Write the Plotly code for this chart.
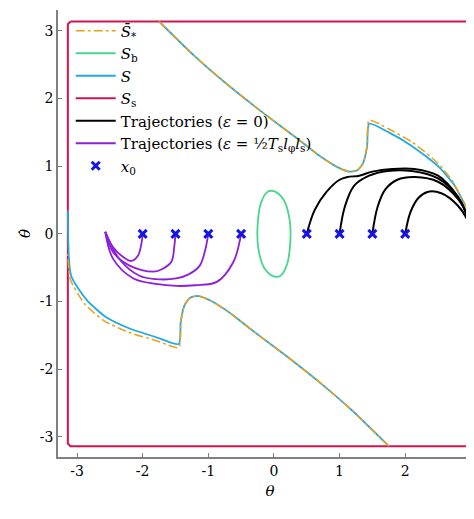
import plotly.graph_objects as go

# boundary S (upper branch, lower branch is point-symmetric)
s_up_x = [-1.75, -1.2, -0.7, -0.18, 0.3, 0.7, 0.96, 1.15, 1.27, 1.36, 1.42, 1.45, 1.75, 2.1, 2.5, 2.75, 2.9, 3.05, 3.14]
s_up_y = [3.14, 2.62, 2.2, 1.8, 1.45, 1.15, 0.99, 0.92, 0.94, 1.05, 1.3, 1.63, 1.5, 1.3, 1.0, 0.72, 0.45, 0.2, 0.0]
s_lo_x = [1.75, 1.2, 0.7, 0.18, -0.3, -0.7, -0.96, -1.15, -1.27, -1.36, -1.42, -1.45, -1.79, -2.2, -2.56, -2.85, -3.09, -3.14]
s_lo_y = [-3.14, -2.62, -2.2, -1.8, -1.45, -1.15, -0.99, -0.92, -0.94, -1.05, -1.3, -1.63, -1.53, -1.4, -1.23, -0.98, -0.62, 0.35]

# outer estimate S_bar_* (slightly outside S on curved parts)
sb_up_x = [-1.75, -1.2, -0.7, -0.18, 0.3, 0.7, 0.96, 1.15, 1.27, 1.36, 1.42, 1.45, 1.75, 2.1, 2.48, 2.72, 2.87, 3.02, 3.1]
sb_up_y = [3.14, 2.62, 2.2, 1.8, 1.45, 1.15, 0.99, 0.92, 0.94, 1.05, 1.3, 1.68, 1.55, 1.36, 1.06, 0.78, 0.5, 0.24, 0.05]
sb_lo_x = [1.75, 1.2, 0.7, 0.18, -0.3, -0.7, -0.96, -1.15, -1.27, -1.36, -1.42, -1.45, -1.79, -2.2, -2.58, -2.88, -3.1, -3.14]
sb_lo_y = [-3.14, -2.62, -2.2, -1.8, -1.45, -1.15, -0.99, -0.92, -0.94, -1.05, -1.3, -1.68, -1.58, -1.46, -1.29, -1.04, -0.68, -0.3]

# S_b ellipse (tilted)
sb_ell_x = [0.25, 0.24, 0.15, 0.0, -0.1, -0.2, -0.25, -0.24, -0.15, 0.0, 0.1, 0.2, 0.25]
sb_ell_y = [-0.1, 0.2, 0.5, 0.63, 0.62, 0.45, 0.1, -0.2, -0.5, -0.63, -0.62, -0.45, -0.1]

# safe set S_s (rounded square)
ss_x = [-3.1, 3.1, 3.14, 3.14, 3.1, -3.1, -3.14, -3.14, -3.1]
ss_y = [3.14, 3.14, 3.1, -3.1, -3.14, -3.14, -3.1, 3.1, 3.14]

# trajectories eps = 0
traj0 = [
    ([0.5, 0.62, 0.8, 1.0, 1.12, 1.3, 1.5, 1.8, 2.14, 2.5, 2.8, 2.95, 3.0],
     [0.0, 0.35, 0.62, 0.8, 0.84, 0.86, 0.92, 0.96, 0.96, 0.86, 0.55, 0.25, 0.0]),
    ([1.0, 1.08, 1.22, 1.45, 1.73, 2.1, 2.5, 2.8, 2.95, 3.0],
     [0.0, 0.4, 0.71, 0.86, 0.93, 0.93, 0.82, 0.55, 0.25, 0.0]),
    ([1.5, 1.58, 1.7, 1.88, 2.15, 2.5, 2.8, 2.95, 3.0],
     [0.0, 0.4, 0.66, 0.8, 0.84, 0.77, 0.52, 0.25, 0.0]),
    ([2.0, 2.08, 2.2, 2.34, 2.55, 2.8, 2.95, 3.0],
     [0.0, 0.32, 0.53, 0.62, 0.6, 0.42, 0.2, 0.0]),
]

# trajectories eps = 1/2 Ts l_phi l_s
traj1 = [
    ([-0.5, -0.62, -0.87, -1.2, -1.49, -1.8, -2.14, -2.45, -2.57],
     [0.0, -0.42, -0.71, -0.76, -0.77, -0.74, -0.66, -0.37, 0.03]),
    ([-1.0, -1.05, -1.13, -1.3, -1.49, -1.8, -2.05, -2.35, -2.57],
     [0.0, -0.25, -0.47, -0.6, -0.66, -0.67, -0.62, -0.38, 0.03]),
    ([-1.5, -1.52, -1.56, -1.7, -1.84, -2.2, -2.45, -2.57],
     [0.0, -0.2, -0.41, -0.52, -0.56, -0.47, -0.27, 0.03]),
    ([-2.0, -2.02, -2.07, -2.17, -2.3, -2.45, -2.57],
     [0.0, -0.15, -0.32, -0.4, -0.34, -0.2, 0.03]),
]

x0_x = [0.5, 1.0, 1.5, 2.0, -0.5, -1.0, -1.5, -2.0]
x0_y = [0, 0, 0, 0, 0, 0, 0, 0]

orange = 'rgb(237, 160, 20)'
green = 'rgb(70, 215, 140)'
blue = 'rgb(30, 170, 230)'
red = 'rgb(210, 20, 80)'
purple = 'rgb(140, 30, 220)'
serif = 'DejaVu Serif'

fig = go.Figure()

fig.add_trace(go.Scatter(x=ss_x, y=ss_y, mode='lines', line=dict(color=red, width=2), showlegend=False))
fig.add_trace(go.Scatter(x=s_up_x, y=s_up_y, mode='lines', line=dict(color=blue, width=1.8, shape='spline', smoothing=0.6),
                         showlegend=False))
fig.add_trace(go.Scatter(x=s_lo_x, y=s_lo_y, mode='lines', line=dict(color=blue, width=1.8, shape='spline', smoothing=0.6),
                         showlegend=False))
fig.add_trace(go.Scatter(x=sb_up_x, y=sb_up_y, mode='lines',
                         line=dict(color=orange, width=1.5, dash='dashdot', shape='spline', smoothing=0.6),
                         showlegend=False))
fig.add_trace(go.Scatter(x=sb_lo_x, y=sb_lo_y, mode='lines',
                         line=dict(color=orange, width=1.5, dash='dashdot', shape='spline', smoothing=0.6),
                         showlegend=False))
fig.add_trace(go.Scatter(x=sb_ell_x, y=sb_ell_y, mode='lines', line=dict(color=green, width=1.8, shape='spline'),
                         showlegend=False))

for tx, ty in traj0:
    fig.add_trace(go.Scatter(x=tx, y=ty, mode='lines', line=dict(color='black', width=2, shape='spline'),
                             showlegend=False))
for tx, ty in traj1:
    fig.add_trace(go.Scatter(x=tx, y=ty, mode='lines', line=dict(color=purple, width=1.8, shape='spline'),
                             showlegend=False))

# black blob at the end of eps=0 trajectories
fig.add_trace(go.Scatter(x=[3.0, 3.0], y=[0.05, -0.08], mode='lines', line=dict(color='black', width=5),
                         showlegend=False))

fig.add_trace(go.Scatter(x=x0_x, y=x0_y, mode='markers', showlegend=False,
                         marker=dict(color='rgb(20, 20, 230)', size=8, symbol='x-thin',
                                     line=dict(color='rgb(20, 20, 230)', width=3))))

# legend entries
legend_items = [
    ('<i>S̄</i><sub>*</sub>', dict(color=orange, width=1.5, dash='dashdot')),
    ('<i>S</i><sub>b</sub>', dict(color=green, width=2)),
    ('<i>S</i>', dict(color=blue, width=2)),
    ('<i>S</i><sub>s</sub>', dict(color=red, width=2)),
    ('Trajectories (<i>ε</i> = 0)', dict(color='black', width=2)),
    ('Trajectories (<i>ε</i> = ½<i>T</i><sub>s</sub><i>l</i><sub>φ</sub><i>l</i><sub>s</sub>)', dict(color=purple, width=2)),
]
for name, ln in legend_items:
    fig.add_trace(go.Scatter(x=[None], y=[None], mode='lines', name=name, line=ln))
fig.add_trace(go.Scatter(x=[None], y=[None], mode='markers', name='<i>x</i><sub>0</sub>',
                         marker=dict(color='rgb(20, 20, 230)', size=8, symbol='x-thin',
                                     line=dict(color='rgb(20, 20, 230)', width=3))))

fig.update_layout(
    width=474, height=519,
    margin=dict(l=50, r=0, t=2, b=70),
    template='plotly_white',
    plot_bgcolor='white',
    font=dict(family=serif, size=14, color='black'),
    legend=dict(x=0.03, y=0.99, xanchor='left', yanchor='top', bgcolor='rgba(0,0,0,0)',
                tracegroupgap=0, itemwidth=40, font=dict(family=serif, size=15)),
)
fig.update_xaxes(range=[-3.29, 3.17], tickvals=[-3, -2, -1, 0, 1, 2, 3], ticktext=['-3', '-2', '-1', '0', '1', '2', '3'],
                 showgrid=False, zeroline=False, showline=True, linecolor='gray', linewidth=1.5,
                 ticks='inside', ticklen=4, tickcolor='gray', tickfont=dict(family=serif, size=14),
                 title=dict(text='<i>θ</i>', standoff=8, font=dict(family=serif, size=15)))
fig.update_yaxes(range=[-3.3, 3.31], tickvals=[-3, -2, -1, 0, 1, 2, 3], ticktext=['-3', '-2', '-1', '0', '1', '2', '3'],
                 showgrid=False, zeroline=False, showline=True, linecolor='gray', linewidth=1.5,
                 ticks='inside', ticklen=4, tickcolor='gray', tickfont=dict(family=serif, size=14),
                 title=dict(text='<i>θ̇</i>', standoff=6, font=dict(family=serif, size=15)))

fig.write_html("out.html")
